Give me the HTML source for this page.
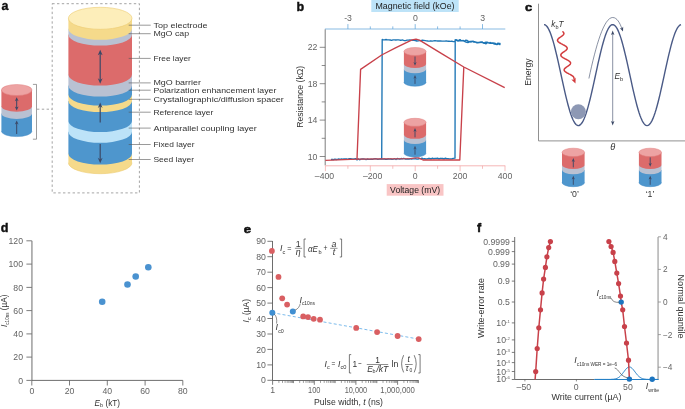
<!DOCTYPE html><html><head><meta charset="utf-8"><title>figure</title><style>html,body{margin:0;padding:0;background:#fff}svg{display:block}svg text{font-family:"Liberation Sans",sans-serif}</style></head><body><svg width="685" height="409" viewBox="0 0 685 409">
<rect width="685" height="409" fill="#ffffff"/>
<text x="1.5" y="10.4" font-size="12.5" text-anchor="start" fill="#111" font-weight="bold" stroke="#111" stroke-width="0.35">a</text>
<rect x="52.2" y="3.7" width="87.2" height="189.2" fill="none" stroke="#666" stroke-width="0.6" stroke-dasharray="2.4 2.4"/>
<path d="M68.4 153.6 V162.7 A31.8 11 0 0 0 132.0 162.7 V153.6 Z" fill="#f5da8b"/>
<path d="M68.4 131.8 V153.6 A31.8 11 0 0 0 132.0 153.6 V131.8 Z" fill="#4e96cd"/>
<path d="M68.4 121 V131.8 A31.8 11 0 0 0 132.0 131.8 V121 Z" fill="#bde3f8"/>
<path d="M68.4 101.1 V121 A31.8 11 0 0 0 132.0 121 V101.1 Z" fill="#4e96cd"/>
<path d="M68.4 94.6 V101.1 A31.8 11 0 0 0 132.0 101.1 V94.6 Z" fill="#f5da8b"/>
<path d="M68.4 85.6 V94.6 A31.8 11 0 0 0 132.0 94.6 V85.6 Z" fill="#4e96cd"/>
<path d="M68.4 74.6 V85.6 A31.8 11 0 0 0 132.0 85.6 V74.6 Z" fill="#b9c1d2"/>
<path d="M68.4 34.6 V74.6 A31.8 11 0 0 0 132.0 74.6 V34.6 Z" fill="#dc6b6b"/>
<path d="M68.4 28.8 V34.6 A31.8 11 0 0 0 132.0 34.6 V28.8 Z" fill="#b9c1d2"/>
<path d="M68.4 18.3 V28.8 A31.8 11 0 0 0 132.0 28.8 V18.3 Z" fill="#f5da8b"/>
<path d="M68.4 162.7 A31.8 11 0 0 0 132.0 162.7" fill="none" stroke="#eccb70" stroke-width="0.6"/>
<ellipse cx="100.2" cy="18.3" rx="31.8" ry="11" fill="#fdeeba" stroke="#eccb70" stroke-width="0.6"/>
<line x1="100.2" y1="53.099999999999994" x2="100.2" y2="80.5" stroke="#3b4866" stroke-width="1.2"/>
<path d="M100.2 83.8 L97.8 78.3 L100.2 79.95 L102.60000000000001 78.3 Z" fill="#3b4866"/>
<path d="M100.2 49.8 L97.8 55.3 L100.2 53.65 L102.60000000000001 55.3 Z" fill="#3b4866"/>
<line x1="100.2" y1="122.5" x2="100.2" y2="105.7" stroke="#3b4866" stroke-width="1.2"/>
<path d="M100.2 102.4 L97.8 107.9 L100.2 106.25 L102.60000000000001 107.9 Z" fill="#3b4866"/>
<line x1="100.2" y1="144" x2="100.2" y2="160.0" stroke="#3b4866" stroke-width="1.2"/>
<path d="M100.2 163.3 L97.8 157.8 L100.2 159.45000000000002 L102.60000000000001 157.8 Z" fill="#3b4866"/>
<line x1="128.7" y1="25.2" x2="150.7" y2="25.2" stroke="#555" stroke-width="0.6"/>
<text x="153.4" y="27.9" font-size="7.9" text-anchor="start" fill="#333333" textLength="54" lengthAdjust="spacingAndGlyphs" >Top electrode</text>
<line x1="128.7" y1="33.7" x2="150.7" y2="33.7" stroke="#555" stroke-width="0.6"/>
<text x="153.4" y="36.4" font-size="7.9" text-anchor="start" fill="#333333" textLength="35.7" lengthAdjust="spacingAndGlyphs" >MgO cap</text>
<line x1="128.7" y1="58.4" x2="150.7" y2="58.4" stroke="#555" stroke-width="0.6"/>
<text x="153.4" y="60.9" font-size="7.9" text-anchor="start" fill="#333333" textLength="37.5" lengthAdjust="spacingAndGlyphs" >Free layer</text>
<line x1="128.7" y1="82.9" x2="150.7" y2="82.9" stroke="#555" stroke-width="0.6"/>
<text x="153.4" y="85.4" font-size="7.9" text-anchor="start" fill="#333333" textLength="47.5" lengthAdjust="spacingAndGlyphs" >MgO barrier</text>
<line x1="128.7" y1="90.2" x2="150.7" y2="90.2" stroke="#555" stroke-width="0.6"/>
<text x="153.4" y="93.3" font-size="7.9" text-anchor="start" fill="#333333" textLength="123" lengthAdjust="spacingAndGlyphs" >Polarization enhancement layer</text>
<line x1="128.7" y1="99.3" x2="150.7" y2="99.3" stroke="#555" stroke-width="0.6"/>
<text x="153.4" y="102.2" font-size="7.9" text-anchor="start" fill="#333333" textLength="130.4" lengthAdjust="spacingAndGlyphs" >Crystallographic/diffusion spacer</text>
<line x1="128.7" y1="112.2" x2="150.7" y2="112.2" stroke="#555" stroke-width="0.6"/>
<text x="153.4" y="115.1" font-size="7.9" text-anchor="start" fill="#333333" textLength="60" lengthAdjust="spacingAndGlyphs" >Reference layer</text>
<line x1="128.7" y1="128.1" x2="150.7" y2="128.1" stroke="#555" stroke-width="0.6"/>
<text x="153.4" y="130.7" font-size="7.9" text-anchor="start" fill="#333333" textLength="103.5" lengthAdjust="spacingAndGlyphs" >Antiparallel coupling layer</text>
<line x1="128.7" y1="144.5" x2="150.7" y2="144.5" stroke="#555" stroke-width="0.6"/>
<text x="153.4" y="147" font-size="7.9" text-anchor="start" fill="#333333" textLength="41.1" lengthAdjust="spacingAndGlyphs" >Fixed layer</text>
<line x1="128.7" y1="159.5" x2="150.7" y2="159.5" stroke="#555" stroke-width="0.6"/>
<text x="153.4" y="162.1" font-size="7.9" text-anchor="start" fill="#333333" textLength="40.6" lengthAdjust="spacingAndGlyphs" >Seed layer</text>
<path d="M1.3999999999999986 113.4 V131.1 A15.3 5.5 0 0 0 32.0 131.1 V113.4 Z" fill="#4e96cd"/>
<path d="M1.3999999999999986 106.2 V113.4 A15.3 5.5 0 0 0 32.0 113.4 V106.2 Z" fill="#b9c1d2"/>
<path d="M1.3999999999999986 90 V106.2 A15.3 5.5 0 0 0 32.0 106.2 V90 Z" fill="#dc6b6b"/>
<path d="M1.3999999999999986 131.1 A15.3 5.5 0 0 0 32.0 131.1" fill="none" stroke="#3f88c4" stroke-width="0.5"/>
<ellipse cx="16.7" cy="90" rx="15.3" ry="5.5" fill="#eda3a3" stroke="#e07f7f" stroke-width="0.5"/>
<line x1="16.7" y1="99.60000000000001" x2="16.7" y2="108.0" stroke="#3b4866" stroke-width="1.0"/>
<path d="M16.7 110.4 L14.799999999999999 106.4 L16.7 107.60000000000001 L18.599999999999998 106.4 Z" fill="#3b4866"/>
<path d="M16.7 97.2 L14.799999999999999 101.2 L16.7 100.0 L18.599999999999998 101.2 Z" fill="#3b4866"/>
<line x1="16.7" y1="134" x2="16.7" y2="122.80000000000001" stroke="#3b4866" stroke-width="1.0"/>
<path d="M16.7 120.4 L14.799999999999999 124.4 L16.7 123.2 L18.599999999999998 124.4 Z" fill="#3b4866"/>
<path d="M32.9 84.4 H36.5 V139.2 H32.9" fill="none" stroke="#5a5a5a" stroke-width="0.6"/>
<line x1="37" y1="109.2" x2="52" y2="109.2" stroke="#666" stroke-width="0.6" stroke-dasharray="2.4 2.4"/>
<text x="296.5" y="10.6" font-size="12.5" text-anchor="start" fill="#111" font-weight="bold" stroke="#111" stroke-width="0.4">b</text>
<rect x="371.3" y="0" width="87.4" height="12" fill="#bde3f8"/>
<text x="415" y="9.3" font-size="8.6" text-anchor="middle" fill="#222" textLength="79" lengthAdjust="spacingAndGlyphs" >Magnetic field (kOe)</text>
<rect x="386.7" y="184.1" width="56.8" height="11.6" fill="#f9c5c5"/>
<text x="415.1" y="193.3" font-size="8.6" text-anchor="middle" fill="#222" textLength="50" lengthAdjust="spacingAndGlyphs" >Voltage (mV)</text>
<line x1="324.9" y1="29" x2="505.3" y2="29" stroke="#6aa9dc" stroke-width="0.8"/>
<line x1="347.9" y1="29" x2="347.9" y2="24.1" stroke="#6aa9dc" stroke-width="0.8"/>
<line x1="370.3" y1="29" x2="370.3" y2="26.4" stroke="#6aa9dc" stroke-width="0.8"/>
<line x1="392.8" y1="29" x2="392.8" y2="26.4" stroke="#6aa9dc" stroke-width="0.8"/>
<line x1="415.2" y1="29" x2="415.2" y2="24.1" stroke="#6aa9dc" stroke-width="0.8"/>
<line x1="437.6" y1="29" x2="437.6" y2="26.4" stroke="#6aa9dc" stroke-width="0.8"/>
<line x1="460.1" y1="29" x2="460.1" y2="26.4" stroke="#6aa9dc" stroke-width="0.8"/>
<line x1="482.5" y1="29" x2="482.5" y2="24.1" stroke="#6aa9dc" stroke-width="0.8"/>
<text x="348.05" y="21.1" font-size="8.7" text-anchor="middle" fill="#636363" >-3</text>
<text x="415.4" y="21.1" font-size="8.7" text-anchor="middle" fill="#636363" >0</text>
<text x="482.74999999999994" y="21.1" font-size="8.7" text-anchor="middle" fill="#636363" >3</text>
<line x1="325.2" y1="29.4" x2="325.2" y2="165.4" stroke="#5c5c5c" stroke-width="0.8"/>
<line x1="325.2" y1="156.5" x2="319.7" y2="156.5" stroke="#5c5c5c" stroke-width="0.7"/>
<text x="317.3" y="159.65" font-size="8.7" text-anchor="end" fill="#636363" >10</text>
<line x1="325.2" y1="138.3" x2="321.7" y2="138.3" stroke="#5c5c5c" stroke-width="0.7"/>
<line x1="325.2" y1="120.1" x2="319.7" y2="120.1" stroke="#5c5c5c" stroke-width="0.7"/>
<text x="317.3" y="123.25" font-size="8.7" text-anchor="end" fill="#636363" >14</text>
<line x1="325.2" y1="101.9" x2="321.7" y2="101.9" stroke="#5c5c5c" stroke-width="0.7"/>
<line x1="325.2" y1="83.7" x2="319.7" y2="83.7" stroke="#5c5c5c" stroke-width="0.7"/>
<text x="317.3" y="86.85000000000001" font-size="8.7" text-anchor="end" fill="#636363" >18</text>
<line x1="325.2" y1="65.5" x2="321.7" y2="65.5" stroke="#5c5c5c" stroke-width="0.7"/>
<line x1="325.2" y1="47.3" x2="319.7" y2="47.3" stroke="#5c5c5c" stroke-width="0.7"/>
<text x="317.3" y="50.45000000000001" font-size="8.7" text-anchor="end" fill="#636363" >22</text>
<line x1="325.2" y1="165.8" x2="505.3" y2="165.8" stroke="#f2a3a3" stroke-width="0.8"/>
<line x1="325.4" y1="165.8" x2="325.4" y2="171.20000000000002" stroke="#f2a3a3" stroke-width="0.7"/>
<text x="324.5" y="179.2" font-size="8.7" text-anchor="middle" fill="#636363" >–400</text>
<line x1="347.9" y1="165.8" x2="347.9" y2="168.8" stroke="#f2a3a3" stroke-width="0.7"/>
<line x1="370.3" y1="165.8" x2="370.3" y2="171.20000000000002" stroke="#f2a3a3" stroke-width="0.7"/>
<text x="372.6" y="179.2" font-size="8.7" text-anchor="middle" fill="#636363" >–200</text>
<line x1="392.8" y1="165.8" x2="392.8" y2="168.8" stroke="#f2a3a3" stroke-width="0.7"/>
<line x1="415.2" y1="165.8" x2="415.2" y2="171.20000000000002" stroke="#f2a3a3" stroke-width="0.7"/>
<text x="415.2" y="179.2" font-size="8.7" text-anchor="middle" fill="#636363" >0</text>
<line x1="437.6" y1="165.8" x2="437.6" y2="168.8" stroke="#f2a3a3" stroke-width="0.7"/>
<line x1="460.1" y1="165.8" x2="460.1" y2="171.20000000000002" stroke="#f2a3a3" stroke-width="0.7"/>
<text x="460.09999999999997" y="179.2" font-size="8.7" text-anchor="middle" fill="#636363" >200</text>
<line x1="482.5" y1="165.8" x2="482.5" y2="168.8" stroke="#f2a3a3" stroke-width="0.7"/>
<line x1="505.0" y1="165.8" x2="505.0" y2="171.20000000000002" stroke="#f2a3a3" stroke-width="0.7"/>
<text x="505.0" y="179.2" font-size="8.7" text-anchor="middle" fill="#636363" >400</text>
<text x="0" y="0" font-size="8.6" text-anchor="middle" fill="#333" textLength="62" lengthAdjust="spacingAndGlyphs" transform="translate(303.0 96.8) rotate(-90)">Resistance (kΩ)</text>
<polyline fill="none" stroke="#1c75b5" stroke-width="1.35" stroke-linejoin="round" points="331.0,159.5 332.3,159.3 333.6,159.7 334.9,159.1 336.2,159.5 337.5,159.3 338.8,159.0 340.1,159.3 341.4,158.9 342.7,159.1 344.0,158.8 345.3,158.8 346.6,159.0 347.9,159.3 349.2,158.6 350.5,158.7 351.8,158.9 353.1,159.2 354.4,158.8 355.7,158.6 357.0,159.9 358.3,158.9 359.6,159.8 360.9,159.2 362.2,159.0 363.5,158.9 364.8,159.1 366.1,159.6 367.4,159.0 368.7,159.4 370.0,159.4 371.3,159.1 372.6,159.3 373.9,158.8 375.2,158.7 376.5,158.9 377.8,159.4 379.1,159.1 380.4,158.9 381.7,159.2 383.0,159.1 384.3,158.9 385.6,159.4 386.9,159.3 388.2,158.8 389.5,159.1 390.8,159.0 392.1,159.4 393.4,159.2 394.7,158.7 396.0,159.5 397.3,158.5 398.6,158.8 399.9,159.2 401.2,158.5 402.5,158.9 403.8,158.4 405.1,159.0 406.4,159.1 407.7,158.9 409.0,159.2 410.3,158.6 411.6,159.0 412.9,158.9 414.2,158.8 415.5,158.7 416.8,159.1 418.1,159.0 419.4,158.6 420.7,158.7 422.0,158.2 423.3,158.8 424.6,158.7 425.9,159.0 427.2,158.9 428.5,158.4 429.8,158.5 431.1,158.8 432.4,158.2 433.7,158.6 435.0,158.3 436.3,158.3 437.6,158.2 438.9,158.8 440.2,158.3 441.5,158.4 442.8,158.5 444.1,158.9 445.4,158.2 446.7,158.6 448.0,158.6 449.3,158.9 450.6,158.9 451.9,158.9 453.2,158.4 455.0,158.2 455.2,39.8 456.0,40.4 457.0,40.1 458.0,40.3 459.0,40.2 460.0,39.7 461.0,40.3 462.0,40.8 463.0,40.9 464.0,40.9 465.0,40.7 466.0,40.2 467.0,40.3 468.0,41.2 469.0,41.6 470.0,41.9 471.0,42.0 472.0,41.4 473.0,41.2 474.0,41.6 475.0,42.2 476.0,42.0 477.0,42.9 478.0,42.5 479.0,42.3 480.0,42.1 481.0,42.0 482.0,42.6 483.0,42.7 484.0,43.3 485.0,42.5 486.0,42.2 487.0,42.2 488.0,42.5 489.0,43.2 490.0,43.3 491.0,43.4 492.0,43.3 493.0,42.9 494.0,43.1 495.0,43.1 496.0,44.4 497.0,44.6 498.0,44.2 499.0,44.0 499.9,44.6 500.0,43.5 499.0,43.3 498.0,43.1 497.0,44.0 496.0,44.4 495.0,44.1 494.0,44.0 493.0,43.3 492.0,42.9 491.0,42.8 490.0,42.5 489.0,43.1 488.0,42.7 487.0,42.8 486.0,43.9 485.0,43.4 484.0,42.7 483.0,42.7 482.0,41.8 481.0,42.1 480.0,42.6 479.0,42.7 478.0,42.8 477.0,42.5 476.0,42.5 475.0,42.0 474.0,42.2 473.0,41.6 472.0,41.7 471.0,41.3 470.0,41.4 469.0,42.2 468.0,42.5 467.0,42.3 466.0,42.0 465.0,41.6 464.0,41.1 463.0,40.4 462.0,40.8 461.0,40.9 460.0,40.8 459.0,40.9 458.0,41.1 457.0,40.7 455.8,39.6 454.6,41.6 453.2,41.6 451.8,41.1 450.4,41.3 449.0,41.2 447.6,41.2 446.2,41.0 444.8,41.1 443.4,41.1 442.0,41.1 440.6,40.9 439.2,41.0 437.8,41.0 436.4,40.8 435.0,40.7 433.6,40.9 432.2,41.1 430.8,40.8 429.4,41.1 428.0,41.0 426.6,40.8 425.2,40.6 423.8,40.4 422.4,40.2 421.0,40.7 419.6,40.6 418.2,40.9 416.8,41.0 415.4,40.5 414.0,40.3 412.6,40.4 411.2,40.2 409.8,40.0 408.4,40.1 407.0,40.2 405.6,40.7 404.2,40.6 402.8,40.0 401.4,40.2 400.0,40.2 398.6,39.9 397.2,39.8 395.8,40.0 394.4,39.9 393.0,39.9 391.6,40.4 390.2,40.0 388.8,39.8 387.4,39.9 386.0,39.5 384.6,39.8 383.2,39.9 382.2,39.5 381.7,158.5"/>
<polyline fill="none" stroke="#c8414a" stroke-width="1.35" stroke-linejoin="round" points="325.4,160.4 357.0,159.2 360.6,69.4 381.7,55.0 395.0,48.2 412.0,39.9 416.0,39.2 419.5,40.2 440.0,52.6 463.8,67.0 504.7,87.7"/>
<polyline fill="none" stroke="#c8414a" stroke-width="1.35" stroke-linejoin="round" points="463.8,67.1 459.8,160.0 423.0,160.0 418.5,157.9 415.0,157.9 411.0,158.6 357.0,159.2"/>
<path d="M403.9 69.2 V82.2 A11.1 4 0 0 0 426.1 82.2 V69.2 Z" fill="#4e96cd"/>
<path d="M403.9 64.0 V69.2 A11.1 4 0 0 0 426.1 69.2 V64.0 Z" fill="#b9c1d2"/>
<path d="M403.9 51.5 V64.0 A11.1 4 0 0 0 426.1 64.0 V51.5 Z" fill="#dc6b6b"/>
<path d="M403.9 82.2 A11.1 4 0 0 0 426.1 82.2" fill="none" stroke="#3f88c4" stroke-width="0.5"/>
<ellipse cx="415.0" cy="51.5" rx="11.1" ry="4" fill="#eda3a3" stroke="#e07f7f" stroke-width="0.5"/>
<line x1="415.0" y1="56.5" x2="415.0" y2="63.519999999999996" stroke="#3b4866" stroke-width="0.9"/>
<path d="M415.0 65.8 L413.4 62.0 L415.0 63.14 L416.6 62.0 Z" fill="#3b4866"/>
<line x1="415.0" y1="83.9" x2="415.0" y2="77.18" stroke="#3b4866" stroke-width="0.9"/>
<path d="M415.0 74.9 L413.4 78.7 L415.0 77.56 L416.6 78.7 Z" fill="#3b4866"/>
<path d="M403.9 140.0 V153.0 A11.1 4 0 0 0 426.1 153.0 V140.0 Z" fill="#4e96cd"/>
<path d="M403.9 134.8 V140.0 A11.1 4 0 0 0 426.1 140.0 V134.8 Z" fill="#b9c1d2"/>
<path d="M403.9 122.3 V134.8 A11.1 4 0 0 0 426.1 134.8 V122.3 Z" fill="#dc6b6b"/>
<path d="M403.9 153.0 A11.1 4 0 0 0 426.1 153.0" fill="none" stroke="#3f88c4" stroke-width="0.5"/>
<ellipse cx="415.0" cy="122.3" rx="11.1" ry="4" fill="#eda3a3" stroke="#e07f7f" stroke-width="0.5"/>
<line x1="415.0" y1="137.3" x2="415.0" y2="130.28" stroke="#3b4866" stroke-width="0.9"/>
<path d="M415.0 128.0 L413.4 131.8 L415.0 130.66 L416.6 131.8 Z" fill="#3b4866"/>
<line x1="415.0" y1="154.7" x2="415.0" y2="147.98" stroke="#3b4866" stroke-width="0.9"/>
<path d="M415.0 145.7 L413.4 149.5 L415.0 148.35999999999999 L416.6 149.5 Z" fill="#3b4866"/>
<text x="525" y="10.8" font-size="11.8" text-anchor="start" fill="#111" textLength="7.2" lengthAdjust="spacingAndGlyphs" font-weight="bold" stroke="#111" stroke-width="0.5">c</text>
<path d="M538.5 3.7 V140.9 H685" fill="none" stroke="#858585" stroke-width="0.9"/>
<polyline fill="none" stroke="#4a5a86" stroke-width="1.4" stroke-linejoin="round" points="544.0,24.6 545.0,24.8 546.0,25.5 547.0,26.5 548.0,28.0 549.0,29.9 550.0,32.1 551.0,34.7 552.0,37.7 553.0,40.9 554.0,44.4 555.0,48.2 556.0,52.3 557.0,56.5 558.0,60.8 559.0,65.3 560.0,69.9 561.0,74.5 562.0,79.1 563.0,83.7 564.0,88.2 565.0,92.6 566.0,96.8 567.0,100.9 568.0,104.7 569.0,108.3 570.0,111.7 571.0,114.7 572.0,117.4 573.0,119.7 574.0,121.7 575.0,123.3 576.0,124.5 577.0,125.2 578.0,125.6 579.0,125.5 580.0,125.0 581.0,124.1 582.0,122.8 583.0,121.1 584.0,119.0 585.0,116.5 586.0,113.7 587.0,110.5 588.0,107.1 589.0,103.4 590.0,99.5 591.0,95.3 592.0,91.0 593.0,86.6 594.0,82.1 595.0,77.5 596.0,72.9 597.0,68.3 598.0,63.7 599.0,59.3 600.0,55.0 601.0,50.8 602.0,46.9 603.0,43.2 604.0,39.7 605.0,36.6 606.0,33.8 607.0,31.3 608.0,29.2 609.0,27.5 610.0,26.1 611.0,25.2 612.0,24.7 613.0,24.6 614.0,25.0 615.0,25.7 616.0,26.9 617.0,28.4 618.0,30.4 619.0,32.7 620.0,35.4 621.0,38.4 622.0,41.8 623.0,45.4 624.0,49.2 625.0,53.3 626.0,57.5 627.0,61.9 628.0,66.4 629.0,71.0 630.0,75.6 631.0,80.2 632.0,84.8 633.0,89.3 634.0,93.6 635.0,97.8 636.0,101.9 637.0,105.7 638.0,109.2 639.0,112.5 640.0,115.4 641.0,118.0 642.0,120.3 643.0,122.1 644.0,123.6 645.0,124.7 646.0,125.4 647.0,125.6 648.0,125.4 649.0,124.8 650.0,123.8 651.0,122.4 652.0,120.6 653.0,118.4 654.0,115.8 655.0,112.9 656.0,109.7 657.0,106.2 658.0,102.5 659.0,98.5 660.0,94.3 661.0,89.9 662.0,85.5 663.0,80.9 664.0,76.3 665.0,71.7 666.0,67.1 667.0,62.6 668.0,58.2 669.0,53.9 670.0,49.8 671.0,45.9 672.0,42.3 673.0,38.9 674.0,35.9 675.0,33.1 676.0,30.7 677.0,28.7 678.0,27.1 679.0,25.9 680.0,25.0 681.0,24.6"/>
<circle cx="578.4" cy="111.7" r="7.5" fill="#8d98b4"/>
<line x1="612.7" y1="33" x2="612.7" y2="123" stroke="#3b4866" stroke-width="0.6"/>
<path d="M612.7 30.4 L611 35 L612.7 34 L614.4 35 Z" fill="#3b4866"/>
<path d="M612.7 125.5 L611 120.9 L612.7 121.9 L614.4 120.9 Z" fill="#3b4866"/>
<text x="614.4" y="78.9" font-size="8.4" text-anchor="start" fill="#333" ><tspan font-style="italic">E</tspan><tspan font-size="5.8" dy="1.8">b</tspan></text>
<path d="M588.9 78.5 C596 45 604 17.5 612.7 17.5 C617 17.5 620 23 622 29" fill="none" stroke="#3b4866" stroke-width="0.6"/>
<path d="M623 31.5 L619.8 28 L621.6 28.4 L623.2 26.8 Z" fill="#3b4866"/>
<polyline fill="none" stroke="#d23a3c" stroke-width="1.5" stroke-linejoin="round" stroke-linecap="round" points="562.9,31.8 563.3,32.2 563.6,32.6 563.8,33.0 563.9,33.4 563.9,33.8 563.7,34.2 563.5,34.6 563.2,35.0 562.7,35.4 562.3,35.8 561.7,36.2 561.1,36.6 560.6,37.0 560.0,37.4 559.4,37.8 558.9,38.2 558.4,38.6 558.1,39.0 557.8,39.4 557.6,39.8 557.5,40.2 557.5,40.6 557.7,41.0 557.9,41.4 558.3,41.8 558.8,42.2 559.3,42.6 560.0,43.0 560.7,43.4 561.4,43.8 562.2,44.2 562.9,44.6 563.7,45.0 564.4,45.4 565.1,45.8 565.7,46.2 566.2,46.6 566.6,47.0 566.9,47.4 567.1,47.8 567.2,48.2 567.2,48.6 567.1,49.0 566.8,49.4 566.5,49.8 566.1,50.2 565.6,50.6 565.0,51.0 564.5,51.4 563.9,51.8 563.3,52.2 562.7,52.6 562.2,53.0 561.8,53.4 561.4,53.8 561.1,54.2 560.9,54.6 560.8,55.0 560.9,55.4 561.0,55.8 561.3,56.2 561.6,56.6 562.1,57.0 562.7,57.4 563.3,57.8 564.0,58.2 564.7,58.6 565.5,59.0 566.3,59.4 567.0,59.8 567.7,60.2 568.4,60.6 569.0,61.0 569.5,61.4 569.9,61.8 570.3,62.2 570.5,62.6 570.6,63.0 570.5,63.4 570.4,63.8 570.2,64.2 569.8,64.6 569.4,65.0 568.9,65.4 568.4,65.8 567.8,66.2 567.2,66.6 566.6,67.0 566.1,67.4 565.6,67.8 565.1,68.2 564.7,68.6 564.4,69.0 564.2,69.4 564.2,69.8 564.2,70.2 564.3,70.6 564.6,71.0 565.0,71.4 565.4,71.8 566.0,72.2 566.6,72.6 567.3,73.0 568.1,73.4 568.8,73.8 569.6,74.2 570.4,74.6 571.1,75.0 571.7,75.4 572.3,75.8 572.9,76.2 573.3,76.6 573.6,77.0 573.8,77.4 573.9,77.8 574.0,78.2 574.1,78.6 574.2,79.0 574.4,79.4 574.4,80.6"/>
<path d="M575.5 83.4 L571.3 79.4 L573.8 79.8 L575.6 77.6 Z" fill="#d23a3c"/>
<text x="551.3" y="27.4" font-size="8.2" text-anchor="start" fill="#333" ><tspan font-style="italic">k</tspan><tspan font-size="5.5" dy="1.8">b</tspan><tspan font-style="italic" dy="-1.8">T</tspan></text>
<text x="0" y="0" font-size="8.2" text-anchor="middle" fill="#333" textLength="27.2" lengthAdjust="spacingAndGlyphs" transform="translate(531.0 72.1) rotate(-90)">Energy</text>
<text x="612.7" y="150.4" font-size="9.2" text-anchor="middle" fill="#333" font-style="italic">θ</text>
<path d="M562.0 170.09999999999997 V182.49999999999997 A11.3 4.2 0 0 0 584.5999999999999 182.49999999999997 V170.09999999999997 Z" fill="#4e96cd"/>
<path d="M562.0 164.89999999999998 V170.09999999999997 A11.3 4.2 0 0 0 584.5999999999999 170.09999999999997 V164.89999999999998 Z" fill="#b9c1d2"/>
<path d="M562.0 152.39999999999998 V164.89999999999998 A11.3 4.2 0 0 0 584.5999999999999 164.89999999999998 V152.39999999999998 Z" fill="#dc6b6b"/>
<path d="M562.0 182.49999999999997 A11.3 4.2 0 0 0 584.5999999999999 182.49999999999997" fill="none" stroke="#3f88c4" stroke-width="0.5"/>
<ellipse cx="573.3" cy="152.39999999999998" rx="11.3" ry="4.2" fill="#eda3a3" stroke="#e07f7f" stroke-width="0.5"/>
<line x1="573.3" y1="167.39999999999998" x2="573.3" y2="160.37999999999997" stroke="#3b4866" stroke-width="0.9"/>
<path d="M573.3 158.09999999999997 L571.6999999999999 161.89999999999998 L573.3 160.75999999999996 L574.9 161.89999999999998 Z" fill="#3b4866"/>
<line x1="573.3" y1="184.79999999999998" x2="573.3" y2="178.07999999999998" stroke="#3b4866" stroke-width="0.9"/>
<path d="M573.3 175.79999999999998 L571.6999999999999 179.6 L573.3 178.45999999999998 L574.9 179.6 Z" fill="#3b4866"/>
<path d="M638.9000000000001 170.09999999999997 V182.49999999999997 A11.3 4.2 0 0 0 661.5 182.49999999999997 V170.09999999999997 Z" fill="#4e96cd"/>
<path d="M638.9000000000001 164.89999999999998 V170.09999999999997 A11.3 4.2 0 0 0 661.5 170.09999999999997 V164.89999999999998 Z" fill="#b9c1d2"/>
<path d="M638.9000000000001 152.39999999999998 V164.89999999999998 A11.3 4.2 0 0 0 661.5 164.89999999999998 V152.39999999999998 Z" fill="#dc6b6b"/>
<path d="M638.9000000000001 182.49999999999997 A11.3 4.2 0 0 0 661.5 182.49999999999997" fill="none" stroke="#3f88c4" stroke-width="0.5"/>
<ellipse cx="650.2" cy="152.39999999999998" rx="11.3" ry="4.2" fill="#eda3a3" stroke="#e07f7f" stroke-width="0.5"/>
<line x1="650.2" y1="157.39999999999998" x2="650.2" y2="164.42" stroke="#3b4866" stroke-width="0.9"/>
<path d="M650.2 166.7 L648.6 162.89999999999998 L650.2 164.04 L651.8000000000001 162.89999999999998 Z" fill="#3b4866"/>
<line x1="650.2" y1="184.79999999999998" x2="650.2" y2="178.07999999999998" stroke="#3b4866" stroke-width="0.9"/>
<path d="M650.2 175.79999999999998 L648.6 179.6 L650.2 178.45999999999998 L651.8000000000001 179.6 Z" fill="#3b4866"/>
<text x="574.5" y="197.2" font-size="8.7" text-anchor="middle" fill="#333" >‘0’</text>
<text x="650" y="197.2" font-size="8.7" text-anchor="middle" fill="#333" >‘1’</text>
<text x="0.8" y="232.2" font-size="12.5" text-anchor="start" fill="#111" textLength="7.7" lengthAdjust="spacingAndGlyphs" font-weight="bold" stroke="#111" stroke-width="0.4">d</text>
<path d="M31.95 240.8 V380.4 H182.8" fill="none" stroke="#5c5c5c" stroke-width="0.9"/>
<line x1="31.8" y1="380.4" x2="26.4" y2="380.4" stroke="#5c5c5c" stroke-width="0.8"/>
<text x="23" y="383.54999999999995" font-size="8.7" text-anchor="end" fill="#636363" >0</text>
<line x1="31.8" y1="357.1" x2="26.4" y2="357.1" stroke="#5c5c5c" stroke-width="0.8"/>
<text x="23" y="360.28999999999996" font-size="8.7" text-anchor="end" fill="#636363" >20</text>
<line x1="31.8" y1="333.9" x2="26.4" y2="333.9" stroke="#5c5c5c" stroke-width="0.8"/>
<text x="23" y="337.03" font-size="8.7" text-anchor="end" fill="#636363" >40</text>
<line x1="31.8" y1="310.6" x2="26.4" y2="310.6" stroke="#5c5c5c" stroke-width="0.8"/>
<text x="23" y="313.77" font-size="8.7" text-anchor="end" fill="#636363" >60</text>
<line x1="31.8" y1="287.4" x2="26.4" y2="287.4" stroke="#5c5c5c" stroke-width="0.8"/>
<text x="23" y="290.50999999999993" font-size="8.7" text-anchor="end" fill="#636363" >80</text>
<line x1="31.8" y1="264.1" x2="26.4" y2="264.1" stroke="#5c5c5c" stroke-width="0.8"/>
<text x="23" y="267.24999999999994" font-size="8.7" text-anchor="end" fill="#636363" >100</text>
<line x1="31.8" y1="240.8" x2="26.4" y2="240.8" stroke="#5c5c5c" stroke-width="0.8"/>
<text x="23" y="243.98999999999998" font-size="8.7" text-anchor="end" fill="#636363" >120</text>
<line x1="31.8" y1="380.4" x2="31.8" y2="385.5" stroke="#5c5c5c" stroke-width="0.8"/>
<text x="31.8" y="394.3" font-size="8.7" text-anchor="middle" fill="#636363" >0</text>
<line x1="69.5" y1="380.4" x2="69.5" y2="385.5" stroke="#5c5c5c" stroke-width="0.8"/>
<text x="69.55" y="394.3" font-size="8.7" text-anchor="middle" fill="#636363" >20</text>
<line x1="107.3" y1="380.4" x2="107.3" y2="385.5" stroke="#5c5c5c" stroke-width="0.8"/>
<text x="107.3" y="394.3" font-size="8.7" text-anchor="middle" fill="#636363" >40</text>
<line x1="145.1" y1="380.4" x2="145.1" y2="385.5" stroke="#5c5c5c" stroke-width="0.8"/>
<text x="145.05" y="394.3" font-size="8.7" text-anchor="middle" fill="#636363" >60</text>
<line x1="182.8" y1="380.4" x2="182.8" y2="385.5" stroke="#5c5c5c" stroke-width="0.8"/>
<text x="182.8" y="394.3" font-size="8.7" text-anchor="middle" fill="#636363" >80</text>
<circle cx="102.2" cy="301.7" r="3.3" fill="#4a92d0"/>
<circle cx="127.5" cy="284.5" r="3.3" fill="#4a92d0"/>
<circle cx="135.7" cy="276.5" r="3.3" fill="#4a92d0"/>
<circle cx="148.3" cy="267.3" r="3.3" fill="#4a92d0"/>
<text x="94.6" y="405.6" font-size="8.2" text-anchor="start" fill="#333" ><tspan font-style="italic">E</tspan><tspan font-size="5.5" dy="1.8">b</tspan><tspan dy="-1.8"> (kT)</tspan></text>
<text x="0" y="0" font-size="8.2" text-anchor="start" fill="#333" transform="translate(6.8 327) rotate(-90)"><tspan font-style="italic">I</tspan><tspan font-size="4.6" dy="1.8">c10ns</tspan><tspan dy="-1.8"> (µA)</tspan></text>
<text x="243.7" y="232.6" font-size="11.8" text-anchor="start" fill="#111" textLength="7.3" lengthAdjust="spacingAndGlyphs" font-weight="bold" stroke="#111" stroke-width="0.55">e</text>
<path d="M272.5 241 V380.5 H418.7" fill="none" stroke="#5c5c5c" stroke-width="0.9"/>
<line x1="272.5" y1="380.3" x2="267.4" y2="380.3" stroke="#5c5c5c" stroke-width="0.8"/>
<text x="265.9" y="383.45" font-size="8.7" text-anchor="end" fill="#636363" >0</text>
<line x1="272.5" y1="364.9" x2="267.4" y2="364.9" stroke="#5c5c5c" stroke-width="0.8"/>
<text x="265.9" y="368.005" font-size="8.7" text-anchor="end" fill="#636363" >10</text>
<line x1="272.5" y1="349.4" x2="267.4" y2="349.4" stroke="#5c5c5c" stroke-width="0.8"/>
<text x="265.9" y="352.56" font-size="8.7" text-anchor="end" fill="#636363" >20</text>
<line x1="272.5" y1="334.0" x2="267.4" y2="334.0" stroke="#5c5c5c" stroke-width="0.8"/>
<text x="265.9" y="337.115" font-size="8.7" text-anchor="end" fill="#636363" >30</text>
<line x1="272.5" y1="318.5" x2="267.4" y2="318.5" stroke="#5c5c5c" stroke-width="0.8"/>
<text x="265.9" y="321.66999999999996" font-size="8.7" text-anchor="end" fill="#636363" >40</text>
<line x1="272.5" y1="303.1" x2="267.4" y2="303.1" stroke="#5c5c5c" stroke-width="0.8"/>
<text x="265.9" y="306.225" font-size="8.7" text-anchor="end" fill="#636363" >50</text>
<line x1="272.5" y1="287.6" x2="267.4" y2="287.6" stroke="#5c5c5c" stroke-width="0.8"/>
<text x="265.9" y="290.78" font-size="8.7" text-anchor="end" fill="#636363" >60</text>
<line x1="272.5" y1="272.2" x2="267.4" y2="272.2" stroke="#5c5c5c" stroke-width="0.8"/>
<text x="265.9" y="275.335" font-size="8.7" text-anchor="end" fill="#636363" >70</text>
<line x1="272.5" y1="256.7" x2="267.4" y2="256.7" stroke="#5c5c5c" stroke-width="0.8"/>
<text x="265.9" y="259.89" font-size="8.7" text-anchor="end" fill="#636363" >80</text>
<line x1="272.5" y1="241.3" x2="267.4" y2="241.3" stroke="#5c5c5c" stroke-width="0.8"/>
<text x="265.9" y="244.44500000000002" font-size="8.7" text-anchor="end" fill="#636363" >90</text>
<line x1="272.6" y1="380.5" x2="272.6" y2="384.8" stroke="#5c5c5c" stroke-width="0.8"/>
<line x1="278.9" y1="380.5" x2="278.9" y2="382.9" stroke="#5c5c5c" stroke-width="0.6"/>
<line x1="282.5" y1="380.5" x2="282.5" y2="382.9" stroke="#5c5c5c" stroke-width="0.6"/>
<line x1="285.1" y1="380.5" x2="285.1" y2="382.9" stroke="#5c5c5c" stroke-width="0.6"/>
<line x1="287.2" y1="380.5" x2="287.2" y2="382.9" stroke="#5c5c5c" stroke-width="0.6"/>
<line x1="288.8" y1="380.5" x2="288.8" y2="382.9" stroke="#5c5c5c" stroke-width="0.6"/>
<line x1="290.2" y1="380.5" x2="290.2" y2="382.9" stroke="#5c5c5c" stroke-width="0.6"/>
<line x1="291.4" y1="380.5" x2="291.4" y2="382.9" stroke="#5c5c5c" stroke-width="0.6"/>
<line x1="292.5" y1="380.5" x2="292.5" y2="382.9" stroke="#5c5c5c" stroke-width="0.6"/>
<line x1="293.4" y1="380.5" x2="293.4" y2="383.1" stroke="#5c5c5c" stroke-width="0.8"/>
<line x1="299.7" y1="380.5" x2="299.7" y2="382.9" stroke="#5c5c5c" stroke-width="0.6"/>
<line x1="303.4" y1="380.5" x2="303.4" y2="382.9" stroke="#5c5c5c" stroke-width="0.6"/>
<line x1="306.0" y1="380.5" x2="306.0" y2="382.9" stroke="#5c5c5c" stroke-width="0.6"/>
<line x1="308.0" y1="380.5" x2="308.0" y2="382.9" stroke="#5c5c5c" stroke-width="0.6"/>
<line x1="309.6" y1="380.5" x2="309.6" y2="382.9" stroke="#5c5c5c" stroke-width="0.6"/>
<line x1="311.0" y1="380.5" x2="311.0" y2="382.9" stroke="#5c5c5c" stroke-width="0.6"/>
<line x1="312.2" y1="380.5" x2="312.2" y2="382.9" stroke="#5c5c5c" stroke-width="0.6"/>
<line x1="313.3" y1="380.5" x2="313.3" y2="382.9" stroke="#5c5c5c" stroke-width="0.6"/>
<line x1="314.3" y1="380.5" x2="314.3" y2="384.8" stroke="#5c5c5c" stroke-width="0.8"/>
<line x1="320.5" y1="380.5" x2="320.5" y2="382.9" stroke="#5c5c5c" stroke-width="0.6"/>
<line x1="324.2" y1="380.5" x2="324.2" y2="382.9" stroke="#5c5c5c" stroke-width="0.6"/>
<line x1="326.8" y1="380.5" x2="326.8" y2="382.9" stroke="#5c5c5c" stroke-width="0.6"/>
<line x1="328.8" y1="380.5" x2="328.8" y2="382.9" stroke="#5c5c5c" stroke-width="0.6"/>
<line x1="330.5" y1="380.5" x2="330.5" y2="382.9" stroke="#5c5c5c" stroke-width="0.6"/>
<line x1="331.9" y1="380.5" x2="331.9" y2="382.9" stroke="#5c5c5c" stroke-width="0.6"/>
<line x1="333.1" y1="380.5" x2="333.1" y2="382.9" stroke="#5c5c5c" stroke-width="0.6"/>
<line x1="334.1" y1="380.5" x2="334.1" y2="382.9" stroke="#5c5c5c" stroke-width="0.6"/>
<line x1="335.1" y1="380.5" x2="335.1" y2="383.1" stroke="#5c5c5c" stroke-width="0.8"/>
<line x1="341.4" y1="380.5" x2="341.4" y2="382.9" stroke="#5c5c5c" stroke-width="0.6"/>
<line x1="345.0" y1="380.5" x2="345.0" y2="382.9" stroke="#5c5c5c" stroke-width="0.6"/>
<line x1="347.6" y1="380.5" x2="347.6" y2="382.9" stroke="#5c5c5c" stroke-width="0.6"/>
<line x1="349.6" y1="380.5" x2="349.6" y2="382.9" stroke="#5c5c5c" stroke-width="0.6"/>
<line x1="351.3" y1="380.5" x2="351.3" y2="382.9" stroke="#5c5c5c" stroke-width="0.6"/>
<line x1="352.7" y1="380.5" x2="352.7" y2="382.9" stroke="#5c5c5c" stroke-width="0.6"/>
<line x1="353.9" y1="380.5" x2="353.9" y2="382.9" stroke="#5c5c5c" stroke-width="0.6"/>
<line x1="355.0" y1="380.5" x2="355.0" y2="382.9" stroke="#5c5c5c" stroke-width="0.6"/>
<line x1="355.9" y1="380.5" x2="355.9" y2="384.8" stroke="#5c5c5c" stroke-width="0.8"/>
<line x1="362.2" y1="380.5" x2="362.2" y2="382.9" stroke="#5c5c5c" stroke-width="0.6"/>
<line x1="365.9" y1="380.5" x2="365.9" y2="382.9" stroke="#5c5c5c" stroke-width="0.6"/>
<line x1="368.5" y1="380.5" x2="368.5" y2="382.9" stroke="#5c5c5c" stroke-width="0.6"/>
<line x1="370.5" y1="380.5" x2="370.5" y2="382.9" stroke="#5c5c5c" stroke-width="0.6"/>
<line x1="372.1" y1="380.5" x2="372.1" y2="382.9" stroke="#5c5c5c" stroke-width="0.6"/>
<line x1="373.5" y1="380.5" x2="373.5" y2="382.9" stroke="#5c5c5c" stroke-width="0.6"/>
<line x1="374.7" y1="380.5" x2="374.7" y2="382.9" stroke="#5c5c5c" stroke-width="0.6"/>
<line x1="375.8" y1="380.5" x2="375.8" y2="382.9" stroke="#5c5c5c" stroke-width="0.6"/>
<line x1="376.8" y1="380.5" x2="376.8" y2="383.1" stroke="#5c5c5c" stroke-width="0.8"/>
<line x1="383.0" y1="380.5" x2="383.0" y2="382.9" stroke="#5c5c5c" stroke-width="0.6"/>
<line x1="386.7" y1="380.5" x2="386.7" y2="382.9" stroke="#5c5c5c" stroke-width="0.6"/>
<line x1="389.3" y1="380.5" x2="389.3" y2="382.9" stroke="#5c5c5c" stroke-width="0.6"/>
<line x1="391.3" y1="380.5" x2="391.3" y2="382.9" stroke="#5c5c5c" stroke-width="0.6"/>
<line x1="393.0" y1="380.5" x2="393.0" y2="382.9" stroke="#5c5c5c" stroke-width="0.6"/>
<line x1="394.4" y1="380.5" x2="394.4" y2="382.9" stroke="#5c5c5c" stroke-width="0.6"/>
<line x1="395.6" y1="380.5" x2="395.6" y2="382.9" stroke="#5c5c5c" stroke-width="0.6"/>
<line x1="396.6" y1="380.5" x2="396.6" y2="382.9" stroke="#5c5c5c" stroke-width="0.6"/>
<line x1="397.6" y1="380.5" x2="397.6" y2="384.8" stroke="#5c5c5c" stroke-width="0.8"/>
<line x1="403.9" y1="380.5" x2="403.9" y2="382.9" stroke="#5c5c5c" stroke-width="0.6"/>
<line x1="407.5" y1="380.5" x2="407.5" y2="382.9" stroke="#5c5c5c" stroke-width="0.6"/>
<line x1="410.1" y1="380.5" x2="410.1" y2="382.9" stroke="#5c5c5c" stroke-width="0.6"/>
<line x1="412.1" y1="380.5" x2="412.1" y2="382.9" stroke="#5c5c5c" stroke-width="0.6"/>
<line x1="413.8" y1="380.5" x2="413.8" y2="382.9" stroke="#5c5c5c" stroke-width="0.6"/>
<line x1="415.2" y1="380.5" x2="415.2" y2="382.9" stroke="#5c5c5c" stroke-width="0.6"/>
<line x1="416.4" y1="380.5" x2="416.4" y2="382.9" stroke="#5c5c5c" stroke-width="0.6"/>
<line x1="417.5" y1="380.5" x2="417.5" y2="382.9" stroke="#5c5c5c" stroke-width="0.6"/>
<line x1="418.4" y1="380.5" x2="418.4" y2="383.1" stroke="#5c5c5c" stroke-width="0.8"/>
<text x="272.6" y="393.0" font-size="8.7" text-anchor="middle" fill="#636363" >1</text>
<text x="314.26" y="393.0" font-size="8.7" text-anchor="middle" fill="#636363" textLength="12.4" lengthAdjust="spacingAndGlyphs" >100</text>
<text x="355.92" y="393.0" font-size="8.7" text-anchor="middle" fill="#636363" textLength="22.5" lengthAdjust="spacingAndGlyphs" >10,000</text>
<text x="397.58000000000004" y="393.0" font-size="8.7" text-anchor="middle" fill="#636363" textLength="34.5" lengthAdjust="spacingAndGlyphs" >1,000,000</text>
<text x="348.5" y="405.3" font-size="8.2" text-anchor="middle" fill="#333" textLength="69" lengthAdjust="spacingAndGlyphs" >Pulse width, <tspan font-style="italic">t</tspan> (ns)</text>
<line x1="272.3" y1="312.7" x2="418.7" y2="339.1" stroke="#5aa9e6" stroke-width="0.8" stroke-dasharray="3 2.2"/>
<circle cx="271.9" cy="250.9" r="2.9" fill="#d95f62"/>
<circle cx="278.5" cy="276.9" r="2.9" fill="#d95f62"/>
<circle cx="282.2" cy="298.3" r="2.9" fill="#d95f62"/>
<circle cx="287.1" cy="304.6" r="2.9" fill="#d95f62"/>
<circle cx="303.2" cy="316.4" r="2.9" fill="#d95f62"/>
<circle cx="308" cy="317.1" r="2.9" fill="#d95f62"/>
<circle cx="313.7" cy="318.8" r="2.9" fill="#d95f62"/>
<circle cx="320" cy="319.7" r="2.9" fill="#d95f62"/>
<circle cx="356.2" cy="327.9" r="2.9" fill="#d95f62"/>
<circle cx="377.1" cy="332.1" r="2.9" fill="#d95f62"/>
<circle cx="397.6" cy="336" r="2.9" fill="#d95f62"/>
<circle cx="418.7" cy="339.1" r="2.9" fill="#d95f62"/>
<circle cx="272.3" cy="312.7" r="3" fill="#3f8fd2"/>
<circle cx="292.8" cy="311.4" r="3" fill="#3f8fd2"/>
<path d="M274.3 314.2 C276.6 316 277 319.5 276.6 323.6" fill="none" stroke="#444" stroke-width="0.6"/>
<path d="M295 310.2 C298 309 299.6 306.5 300.3 303.6" fill="none" stroke="#444" stroke-width="0.6"/>
<text x="275.4" y="330.3" font-size="8.8" text-anchor="start" fill="#333" font-style="italic">I</text>
<text x="278.2" y="332.8" font-size="5.2" text-anchor="start" fill="#333" textLength="5.6" lengthAdjust="spacingAndGlyphs" >c0</text>
<text x="299.5" y="303.4" font-size="8.8" text-anchor="start" fill="#333" font-style="italic">I</text>
<text x="301.9" y="305.2" font-size="5.0" text-anchor="start" fill="#333" textLength="13.2" lengthAdjust="spacingAndGlyphs" >c10ns</text>
<text x="0" y="0" font-size="8.4" text-anchor="start" fill="#333" transform="translate(249.0 322.4) rotate(-90)"><tspan font-style="italic">I</tspan><tspan font-size="5.4" dy="1.8">c</tspan><tspan dy="-1.8"> (µA)</tspan></text>
<text x="279.9" y="251.4" font-size="8.8" text-anchor="start" fill="#333" font-style="italic">I</text>
<text x="282.6" y="253.6" font-size="5.6" text-anchor="start" fill="#333" >c</text>
<text x="289.3" y="251.0" font-size="8.8" text-anchor="middle" fill="#333" textLength="4.2" lengthAdjust="spacingAndGlyphs" >=</text>
<text x="298.3" y="246.5" font-size="8.8" text-anchor="middle" fill="#333" >1</text>
<line x1="294.9" y1="248.3" x2="302.1" y2="248.3" stroke="#333" stroke-width="0.55"/>
<text x="298.3" y="255.3" font-size="8.8" text-anchor="middle" fill="#333" font-style="italic">η</text>
<path d="M305.9 239 H304.1 V257 H305.9" fill="none" stroke="#333" stroke-width="0.65"/>
<text x="308.0" y="251.6" font-size="8.8" text-anchor="start" fill="#333" textLength="9.9" lengthAdjust="spacingAndGlyphs" font-style="italic">αE</text>
<text x="318.5" y="254.0" font-size="5.6" text-anchor="start" fill="#333" >b</text>
<text x="325.6" y="251.2" font-size="8.8" text-anchor="middle" fill="#333" textLength="4.0" lengthAdjust="spacingAndGlyphs" >+</text>
<text x="333.9" y="246.6" font-size="8.8" text-anchor="middle" fill="#333" font-style="italic">a</text>
<line x1="330.2" y1="248.3" x2="337.5" y2="248.3" stroke="#333" stroke-width="0.55"/>
<text x="333.9" y="255.2" font-size="8.8" text-anchor="middle" fill="#333" font-style="italic">t</text>
<path d="M339.8 239 H341.6 V257 H339.8" fill="none" stroke="#333" stroke-width="0.65"/>
<text x="324.4" y="366.6" font-size="8.4" text-anchor="start" fill="#333" font-style="italic">I</text>
<text x="327.0" y="368.6" font-size="5.4" text-anchor="start" fill="#333" >c</text>
<text x="333.4" y="366.4" font-size="8.4" text-anchor="middle" fill="#333" textLength="3.8" lengthAdjust="spacingAndGlyphs" >=</text>
<text x="337.9" y="366.6" font-size="8.4" text-anchor="start" fill="#333" font-style="italic">I</text>
<text x="340.5" y="368.6" font-size="5.4" text-anchor="start" fill="#333" textLength="6.0" lengthAdjust="spacingAndGlyphs" >c0</text>
<path d="M351.2 354.6 H349.4 V373 H351.2" fill="none" stroke="#333" stroke-width="0.65"/>
<text x="352.6" y="366.6" font-size="8.4" text-anchor="start" fill="#333" >1</text>
<text x="360.0" y="366.4" font-size="8.4" text-anchor="middle" fill="#333" textLength="3.6" lengthAdjust="spacingAndGlyphs" >−</text>
<text x="377.5" y="362.6" font-size="8.4" text-anchor="middle" fill="#333" >1</text>
<line x1="366.8" y1="364.5" x2="388.2" y2="364.5" stroke="#333" stroke-width="0.55"/>
<text x="367.2" y="371.8" font-size="8.4" text-anchor="start" fill="#333" font-style="italic">E</text>
<text x="372.6" y="373.4" font-size="5.4" text-anchor="start" fill="#333" >b</text>
<text x="376.4" y="371.8" font-size="8.4" text-anchor="start" fill="#333" textLength="12.0" lengthAdjust="spacingAndGlyphs" font-style="italic">/kT</text>
<text x="391.6" y="366.6" font-size="8.4" text-anchor="start" fill="#333" textLength="6.8" lengthAdjust="spacingAndGlyphs" >ln</text>
<path d="M403.6 355.2 Q399.6 363.8 403.6 372.4" fill="none" stroke="#333" stroke-width="0.65"/>
<text x="408.6" y="362.4" font-size="8.4" text-anchor="middle" fill="#333" font-style="italic">t</text>
<line x1="405" y1="364.5" x2="412.7" y2="364.5" stroke="#333" stroke-width="0.55"/>
<text x="405.6" y="370.9" font-size="8.4" text-anchor="start" fill="#333" font-style="italic">τ</text>
<text x="409.4" y="372.4" font-size="5.0" text-anchor="start" fill="#333" >0</text>
<path d="M414.2 355.2 Q418.2 363.8 414.2 372.4" fill="none" stroke="#333" stroke-width="0.65"/>
<path d="M418.3 354.6 H420.1 V373 H418.3" fill="none" stroke="#333" stroke-width="0.65"/>
<text x="477" y="232.2" font-size="12.5" text-anchor="start" fill="#111" font-weight="bold" stroke="#111" stroke-width="0.45">f</text>
<path d="M514.7 237 V379.5 H594.5" fill="none" stroke="#5c5c5c" stroke-width="0.9"/>
<path d="M658.05 237 V379.5" fill="none" stroke="#8a8a8a" stroke-width="1.0"/>
<line x1="524.9" y1="379.5" x2="524.9" y2="381.4" stroke="#5c5c5c" stroke-width="0.7"/>
<line x1="576.4" y1="379.5" x2="576.4" y2="381.4" stroke="#5c5c5c" stroke-width="0.7"/>
<line x1="627.9" y1="379.5" x2="627.9" y2="381.4" stroke="#5c5c5c" stroke-width="0.7"/>
<line x1="514.7" y1="241.4" x2="511.8" y2="241.4" stroke="#5c5c5c" stroke-width="0.8"/>
<text x="509.8" y="244.5303" font-size="8.7" text-anchor="end" fill="#636363" >0.9999</text>
<line x1="514.7" y1="251.6" x2="511.8" y2="251.6" stroke="#5c5c5c" stroke-width="0.8"/>
<text x="509.8" y="254.78300000000002" font-size="8.7" text-anchor="end" fill="#636363" >0.999</text>
<line x1="514.7" y1="264.1" x2="511.8" y2="264.1" stroke="#5c5c5c" stroke-width="0.8"/>
<text x="509.8" y="267.2362" font-size="8.7" text-anchor="end" fill="#636363" >0.99</text>
<line x1="514.7" y1="281.1" x2="511.8" y2="281.1" stroke="#5c5c5c" stroke-width="0.8"/>
<text x="509.8" y="284.25991999999997" font-size="8.7" text-anchor="end" fill="#636363" >0.9</text>
<line x1="514.7" y1="302.0" x2="511.8" y2="302.0" stroke="#5c5c5c" stroke-width="0.8"/>
<text x="509.8" y="305.15" font-size="8.7" text-anchor="end" fill="#636363" >0.5</text>
<line x1="514.7" y1="322.9" x2="511.8" y2="322.9" stroke="#5c5c5c" stroke-width="0.8"/>
<text x="509.8" y="325.89008" font-size="8.7" text-anchor="end" fill="#636363" >10<tspan font-size="4.3" dy="-3">‑1</tspan></text>
<line x1="514.7" y1="339.9" x2="511.8" y2="339.9" stroke="#5c5c5c" stroke-width="0.8"/>
<text x="509.8" y="342.9138" font-size="8.7" text-anchor="end" fill="#636363" >10<tspan font-size="4.3" dy="-3">‑2</tspan></text>
<line x1="514.7" y1="352.4" x2="511.8" y2="352.4" stroke="#5c5c5c" stroke-width="0.8"/>
<text x="509.8" y="355.367" font-size="8.7" text-anchor="end" fill="#636363" >10<tspan font-size="4.3" dy="-3">‑3</tspan></text>
<line x1="514.7" y1="362.6" x2="511.8" y2="362.6" stroke="#5c5c5c" stroke-width="0.8"/>
<text x="509.8" y="365.6197" font-size="8.7" text-anchor="end" fill="#636363" >10<tspan font-size="4.3" dy="-3">‑4</tspan></text>
<line x1="514.7" y1="371.5" x2="511.8" y2="371.5" stroke="#5c5c5c" stroke-width="0.8"/>
<text x="509.8" y="374.5195" font-size="8.7" text-anchor="end" fill="#636363" >10<tspan font-size="4.3" dy="-3">‑5</tspan></text>
<line x1="514.7" y1="379.5" x2="511.8" y2="379.5" stroke="#5c5c5c" stroke-width="0.8"/>
<text x="509.8" y="382.4739" font-size="8.7" text-anchor="end" fill="#636363" >10<tspan font-size="4.3" dy="-3">‑6</tspan></text>
<line x1="658.05" y1="236.8" x2="660.9" y2="236.8" stroke="#8a8a8a" stroke-width="0.8"/>
<text x="663" y="239.8" font-size="8.299999999999999" text-anchor="start" fill="#666" >4</text>
<line x1="658.05" y1="269.4" x2="660.9" y2="269.4" stroke="#8a8a8a" stroke-width="0.8"/>
<text x="663" y="272.4" font-size="8.299999999999999" text-anchor="start" fill="#666" >2</text>
<line x1="658.05" y1="302.0" x2="660.9" y2="302.0" stroke="#8a8a8a" stroke-width="0.8"/>
<text x="663" y="305.0" font-size="8.299999999999999" text-anchor="start" fill="#666" >0</text>
<line x1="658.05" y1="334.6" x2="660.9" y2="334.6" stroke="#8a8a8a" stroke-width="0.8"/>
<text x="663" y="337.6" font-size="8.299999999999999" text-anchor="start" fill="#666" >−2</text>
<line x1="658.05" y1="367.2" x2="660.9" y2="367.2" stroke="#8a8a8a" stroke-width="0.8"/>
<text x="663" y="370.2" font-size="8.299999999999999" text-anchor="start" fill="#666" >−4</text>
<text x="523.85" y="390.3" font-size="8.7" text-anchor="middle" fill="#636363" >–50</text>
<text x="576.2" y="390.3" font-size="8.7" text-anchor="middle" fill="#636363" >0</text>
<text x="627.95" y="390.3" font-size="8.7" text-anchor="middle" fill="#636363" >50</text>
<text x="586.5" y="400.2" font-size="8.2" text-anchor="middle" fill="#333" textLength="70" lengthAdjust="spacingAndGlyphs" >Write current (µA)</text>
<text x="0" y="0" font-size="8.2" text-anchor="middle" fill="#333" textLength="60" lengthAdjust="spacingAndGlyphs" transform="translate(484.3 308) rotate(-90)">Write-error rate</text>
<text x="0" y="0" font-size="8.2" text-anchor="middle" fill="#333" textLength="64" lengthAdjust="spacingAndGlyphs" transform="translate(678.3 306.5) rotate(90)">Normal quantile</text>
<polyline fill="none" stroke="#2580c6" stroke-width="1.0" points="594.5,379.4 595.3,379.4 596.1,379.4 596.9,379.4 597.7,379.4 598.5,379.4 599.3,379.4 600.1,379.4 600.9,379.4 601.7,379.4 602.5,379.4 603.3,379.4 604.1,379.4 604.9,379.4 605.7,379.4 606.5,379.4 607.3,379.4 608.1,379.4 608.9,379.4 609.7,379.4 610.5,379.4 611.3,379.3 612.1,379.3 612.9,379.2 613.7,379.2 614.5,379.0 615.3,378.9 616.1,378.7 616.9,378.4 617.7,378.0 618.5,377.5 619.3,377.0 620.1,376.3 620.9,375.5 621.7,374.6 622.5,373.6 623.3,372.5 624.1,371.5 624.9,370.4 625.7,369.4 626.5,368.6 627.3,367.8 628.1,367.3 628.9,367.0 629.7,367.0 630.5,367.2 631.3,367.7 632.1,368.4 632.9,369.2 633.7,370.2 634.5,371.2 635.3,372.3 636.1,373.3 636.9,374.3 637.7,375.3 638.5,376.1 639.3,376.8 640.1,377.4 640.9,377.9 641.7,378.3 642.5,378.6 643.3,378.8 644.1,379.0 644.9,379.1 645.7,379.2 646.5,379.3 647.3,379.3 648.1,379.4 648.9,379.4 649.7,379.4 650.5,379.4 651.3,379.4 652.1,379.4 652.9,379.4 653.7,379.4 654.5,379.4 655.3,379.4 656.1,379.4 656.9,379.4 657.7,379.4 658.5,379.4"/>
<line x1="594.5" y1="379.5" x2="658.4" y2="379.5" stroke="#2580c6" stroke-width="1.0"/>
<polyline fill="none" stroke="#c8414a" stroke-width="1.5" points="550.4,241.6 548.7,247.6 546.9,256.8 545.4,267.4 543.6,279.1 542.1,292.9 540.5,309.8 538.8,327.8 537.2,348.5 535.7,371.6 535.1,379.5"/>
<polyline fill="none" stroke="#c8414a" stroke-width="1.5" points="608.9,241.6 611.1,246.5 613.1,252.4 614.8,261.4 616.8,273.1 618.6,283.6 620.5,296.0 621.2,302.1 622.7,309.8 624.5,326.5 626.5,343.0 628.5,360.2 629.4,379.1"/>
<circle cx="550.4" cy="241.6" r="2.6" fill="#c8414a"/>
<circle cx="548.7" cy="247.6" r="2.6" fill="#c8414a"/>
<circle cx="546.9" cy="256.8" r="2.6" fill="#c8414a"/>
<circle cx="545.4" cy="267.4" r="2.6" fill="#c8414a"/>
<circle cx="543.6" cy="279.1" r="2.6" fill="#c8414a"/>
<circle cx="542.1" cy="292.9" r="2.6" fill="#c8414a"/>
<circle cx="540.5" cy="309.8" r="2.6" fill="#c8414a"/>
<circle cx="538.8" cy="327.8" r="2.6" fill="#c8414a"/>
<circle cx="537.2" cy="348.5" r="2.6" fill="#c8414a"/>
<circle cx="535.7" cy="371.6" r="2.6" fill="#c8414a"/>
<circle cx="608.9" cy="241.6" r="2.6" fill="#c8414a"/>
<circle cx="611.1" cy="246.5" r="2.6" fill="#c8414a"/>
<circle cx="613.1" cy="252.4" r="2.6" fill="#c8414a"/>
<circle cx="614.8" cy="261.4" r="2.6" fill="#c8414a"/>
<circle cx="616.8" cy="273.1" r="2.6" fill="#c8414a"/>
<circle cx="618.6" cy="283.6" r="2.6" fill="#c8414a"/>
<circle cx="620.5" cy="296" r="2.6" fill="#c8414a"/>
<circle cx="621.2" cy="302.1" r="2.7" fill="#1c75c0"/>
<circle cx="622.7" cy="309.8" r="2.6" fill="#c8414a"/>
<circle cx="624.5" cy="326.5" r="2.6" fill="#c8414a"/>
<circle cx="626.5" cy="343" r="2.6" fill="#c8414a"/>
<circle cx="628.5" cy="360.2" r="2.6" fill="#c8414a"/>
<circle cx="629.4" cy="379.1" r="2.7" fill="#1c75c0"/>
<circle cx="652.2" cy="379.3" r="2.7" fill="#1c75c0"/>
<path d="M611.3 298.3 C612.5 301.5 615 302.6 619.3 302.3" fill="none" stroke="#444" stroke-width="0.65"/>
<text x="596.4" y="296.4" font-size="8.8" text-anchor="start" fill="#333" font-style="italic">I</text>
<text x="598.9" y="299.1" font-size="5.2" text-anchor="start" fill="#333" textLength="12.4" lengthAdjust="spacingAndGlyphs" >c10ns</text>
<path d="M614.7 368 C619 369 620 376.5 627.6 377.8" fill="none" stroke="#444" stroke-width="0.65"/>
<text x="574.2" y="363.3" font-size="8.8" text-anchor="start" fill="#333" font-style="italic">I</text>
<text x="576.8" y="366.1" font-size="5.0" text-anchor="start" fill="#333" textLength="40.3" lengthAdjust="spacingAndGlyphs" >c10ns  WER = 1e–6</text>
<text x="645.8" y="388.9" font-size="8.8" text-anchor="start" fill="#333" font-style="italic">I</text>
<text x="648.3" y="391.7" font-size="5.5" text-anchor="start" fill="#333" textLength="10.8" lengthAdjust="spacingAndGlyphs" >write</text>
</svg></body></html>
